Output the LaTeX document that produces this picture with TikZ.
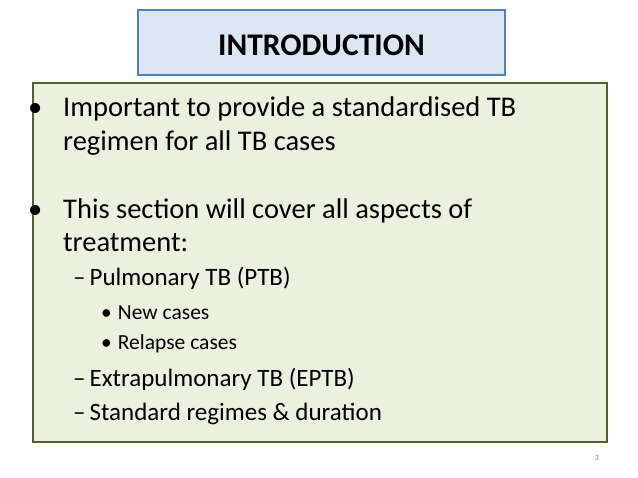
\documentclass[tikz,border=0pt]{standalone}
\usepackage{fontspec}
\setmainfont{Carlito}
\definecolor{titlefill}{HTML}{DCE6F2}
\definecolor{titleline}{HTML}{4F81BD}
\definecolor{bodyfill}{HTML}{EBF1DE}
\definecolor{bodyline}{HTML}{4F6228}
\begin{document}
\begin{tikzpicture}[x=1pt,y=-1pt,
  lvlone/.style={anchor=base west,inner sep=0pt,font=\fontsize{28.5}{32}\selectfont},
  lvltwo/.style={anchor=base west,inner sep=0pt,font=\fontsize{25}{29}\selectfont},
  lvlthree/.style={anchor=base west,inner sep=0pt,font=\fontsize{21.5}{25}\selectfont}]
\useasboundingbox (0,0) rectangle (638,478);
\fill[white] (0,0) rectangle (638,478);
\filldraw[fill=titlefill,draw=titleline,line width=1.5pt] (138,10) rectangle (505,75);
\node[font=\bfseries\fontsize{31.5}{36}\selectfont] (title) at (321.5,45) {INTRODUCTION};
\filldraw[fill=bodyfill,draw=bodyline,line width=2pt] (33,83) rectangle (607,442);
% bullets
\node[lvlone] (b1) at (28,117) {•};
\node[lvlone] (l1) at (63,117) {Important to provide a standardised TB};
\node[lvlone] (l2) at (63,151) {regimen for all TB cases};
\node[lvlone] (b2) at (28,219) {•};
\node[lvlone] (l3) at (63,219) {This section will cover all aspects of};
\node[lvlone] (l4) at (63,252) {treatment:};
\node[lvltwo] (d1) at (73,286) {–\hspace{4pt}Pulmonary TB (PTB)};
\node[lvlthree] (s1) at (101,320) {•\hspace{6pt}New cases};
\node[lvlthree] (s2) at (101,350) {•\hspace{6pt}Relapse cases};
\node[lvltwo] (d2) at (73,387) {–\hspace{4pt}Extrapulmonary TB (EPTB)};
\node[lvltwo] (d3) at (73,421) {–\hspace{4pt}Standard regimes \& duration};
\node[font=\fontsize{8}{9}\selectfont,text=gray] (pg) at (597,458) {3};
\end{tikzpicture}
\end{document}
